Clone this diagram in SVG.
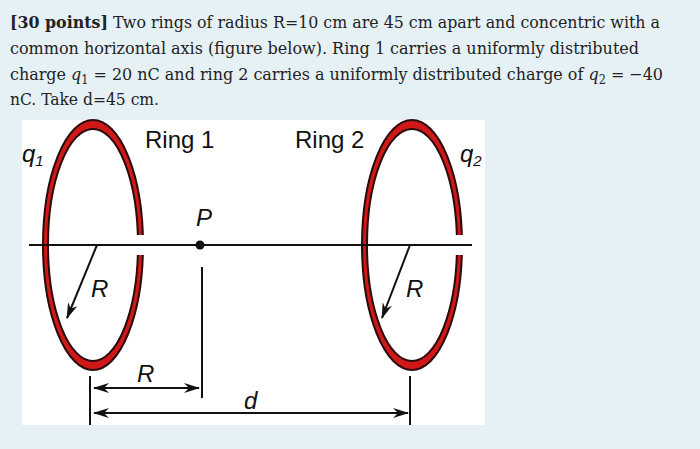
<svg xmlns="http://www.w3.org/2000/svg" width="700" height="449" viewBox="0 0 700 449">
<defs>
<style>
.t{font-family:"DejaVu Serif Condensed","DejaVu Serif","Liberation Serif",serif;font-size:17px;fill:#222}
.l{font-family:"Liberation Sans",Arial,sans-serif;font-size:24px;fill:#111}
.i{font-style:italic}
.ln{stroke:#111;stroke-width:2;fill:none}
.ro{fill:#d01818;stroke:#2a0a0a;stroke-width:2}
.ri{fill:#fff;stroke:#2a0a0a;stroke-width:2}
</style>
<marker id="a" viewBox="0 0 16 10" refX="15" refY="5" markerWidth="16" markerHeight="10" markerUnits="userSpaceOnUse" orient="auto-start-reverse"><path d="M0,0 L16,5 L0,10 L5,5 Z" fill="#111"/></marker>
</defs>
<rect width="700" height="449" fill="#e6f1f5"/>
<text class="t" x="10" y="28" textLength="650" lengthAdjust="spacingAndGlyphs"><tspan font-weight="bold">[30 points]</tspan> Two rings of radius R=10 cm are 45 cm  apart and concentric with a</text>
<text class="t" x="10" y="54" textLength="629" lengthAdjust="spacingAndGlyphs">common horizontal axis (figure below). Ring 1 carries a uniformly distributed</text>
<text class="t" x="10" y="80" textLength="653" lengthAdjust="spacingAndGlyphs">charge <tspan class="i">q</tspan><tspan font-size="12" dy="4">1</tspan><tspan dy="-4"> = 20 nC  and ring 2 carries a uniformly distributed charge of </tspan><tspan class="i">q</tspan><tspan font-size="12" dy="4">2</tspan><tspan dy="-4"> = −40</tspan></text>
<text class="t" x="10" y="105" textLength="149" lengthAdjust="spacingAndGlyphs">nC. Take d=45 cm.</text>
<rect x="22" y="120" width="463" height="305" fill="#fff"/>
<g id="ring1">
<ellipse class="ro" cx="93" cy="245" rx="50" ry="125"/>
<ellipse class="ri" cx="93" cy="245" rx="45" ry="116"/>
<rect x="128" y="235" width="24" height="20" fill="#fff"/>
</g>
<g id="ring2">
<ellipse class="ro" cx="412" cy="245" rx="50" ry="125"/>
<ellipse class="ri" cx="412" cy="245" rx="45" ry="116"/>
<rect x="447" y="235" width="24" height="20" fill="#fff"/>
</g>
<g id="connectors">
<line class="ln" x1="29" y1="245" x2="472" y2="245"/>
<line class="ln" x1="97" y1="245" x2="67" y2="318" marker-end="url(#a)"/>
<line class="ln" x1="410" y1="245" x2="382" y2="318" marker-end="url(#a)"/>
<line class="ln" x1="202" y1="267" x2="202" y2="398"/>
<line class="ln" x1="90" y1="376" x2="90" y2="425"/>
<line class="ln" x1="410" y1="376" x2="410" y2="425"/>
<line class="ln" x1="94" y1="388" x2="199" y2="388" marker-start="url(#a)" marker-end="url(#a)"/>
<line class="ln" x1="94" y1="413" x2="408" y2="413" marker-start="url(#a)" marker-end="url(#a)"/>
</g>
<g id="P"><circle cx="200" cy="245" r="4.5" fill="#111"/><text class="l i" x="196" y="226">P</text></g>
<text class="l" x="145" y="148">Ring 1</text>
<text class="l" x="295" y="148">Ring 2</text>
<text class="l i" x="22" y="162">q<tspan font-size="15" dy="4">1</tspan></text>
<text class="l i" x="460" y="162">q<tspan font-size="15" dy="4">2</tspan></text>
<text class="l i" x="91" y="297">R</text>
<text class="l i" x="406" y="297">R</text>
<text class="l i" x="137" y="382">R</text>
<text class="l i" x="244" y="409">d</text>
</svg>
